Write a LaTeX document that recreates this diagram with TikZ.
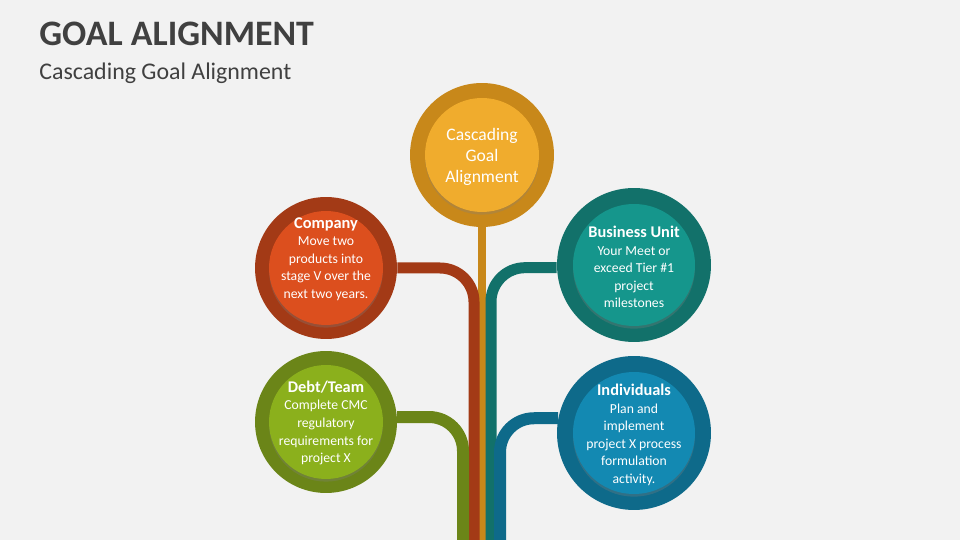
\documentclass[tikz,border=0pt]{standalone}
\usepackage{fontspec}
\setmainfont{Carlito}
\usepackage{tikz}
\usetikzlibrary{positioning,shadows,backgrounds}
\usepackage{xcolor}
\definecolor{pagebg}{RGB}{242,242,242}
\definecolor{titlegray}{RGB}{64,64,64}
\definecolor{topOuter}{RGB}{200,136,26}
\definecolor{topInner}{RGB}{240,172,45}
\definecolor{coOuter}{RGB}{163,58,22}
\definecolor{coInner}{RGB}{220,79,30}
\definecolor{buOuter}{RGB}{18,113,106}
\definecolor{buInner}{RGB}{21,150,140}
\definecolor{dtOuter}{RGB}{107,133,24}
\definecolor{dtInner}{RGB}{139,176,28}
\definecolor{inOuter}{RGB}{14,106,138}
\definecolor{inInner}{RGB}{19,137,178}
\newcommand{\cardhead}[1]{{\fontsize{9.3}{10}\selectfont\bfseries #1}}

\begin{document}
\begin{tikzpicture}[
  x=0.02cm, y=-0.02cm,
  ring/.style={circle, inner sep=0pt, minimum size=2.84cm},
  bigring/.style={ring, minimum size=3.08cm},
  core/.style={circle, inner sep=0pt, minimum size=2.28cm,
               drop shadow={opacity=0.3, shadow xshift=0pt, shadow yshift=-1.5pt}},
  bigcore/.style={core, minimum size=2.44cm},
  cardtxt/.style={text=white, align=center, inner sep=0pt,
                  font=\fontsize{7.8}{10}\selectfont},
  branch/.style={line width=0.22cm, rounded corners=0.68cm},
]
% Title
\node[anchor=base west, inner sep=0pt, text=titlegray,
      font=\fontsize{20.4}{24}\selectfont\bfseries] (title) at (39,46) {GOAL ALIGNMENT};
\node[anchor=base west, inner sep=0pt, text=titlegray,
      font=\fontsize{13.6}{16}\selectfont] (subtitle) at (39,80) {Cascading Goal Alignment};

% Circles
\node[ring, minimum size=2.88cm, fill=topOuter] (top) at (482,155) {};
\node[core, fill=topInner] (topIn) at (top) {};
\node[ring, fill=coOuter] (co) at (326,268) {};
\node[core, fill=coInner] (coIn) at (co) {};
\node[bigring, fill=buOuter] (bu) at (634,265) {};
\node[bigcore, fill=buInner] (buIn) at (bu) {};
\node[ring, fill=dtOuter] (dt) at (326,422) {};
\node[core, fill=dtInner] (dtIn) at (dt) {};
\node[bigring, fill=inOuter] (ind) at (634,433) {};
\node[bigcore, fill=inInner] (indIn) at (ind) {};

% Texts
\node[cardtxt, font=\fontsize{10}{11.8}\selectfont] (topTxt) at (482,157)
  {Cascading\\Goal\\Alignment};
\node[cardtxt] (coTxt) at (326,259)
  {\cardhead{Company}\\Move two\\products into\\stage V over the\\next two years.};
\node[cardtxt] (buTxt) at (634,267)
  {\cardhead{Business Unit}\\Your Meet or\\exceed Tier \#1\\project\\milestones};
\node[cardtxt] (dtTxt) at (326,423)
  {\cardhead{Debt/Team}\\Complete CMC\\regulatory\\requirements for\\project X};
\node[cardtxt] (indTxt) at (634,435)
  {\cardhead{Individuals}\\Plan and\\implement\\project X process\\formulation\\activity.};

% Stem ends
\coordinate (topEnd) at (482,540);
\coordinate (coEnd) at (474,540);
\coordinate (buEnd) at (491,540);
\coordinate (dtEnd) at (463,540);
\coordinate (indEnd) at (500,540);

% Branches
\begin{scope}[on background layer]
  \fill[pagebg] (0,0) rectangle (960,540);
  \draw[branch, topOuter, line width=0.16cm] (top.south) -- (topEnd);
  \draw[branch, coOuter] (co.east) -| (coEnd);
  \draw[branch, buOuter] (bu.182) -| (buEnd);
  \draw[branch, dtOuter, line width=0.24cm] (dt.4) -| (dtEnd);
  \draw[branch, inOuter, line width=0.24cm] (ind.169) -| (indEnd);
\end{scope}
\end{tikzpicture}
\end{document}
